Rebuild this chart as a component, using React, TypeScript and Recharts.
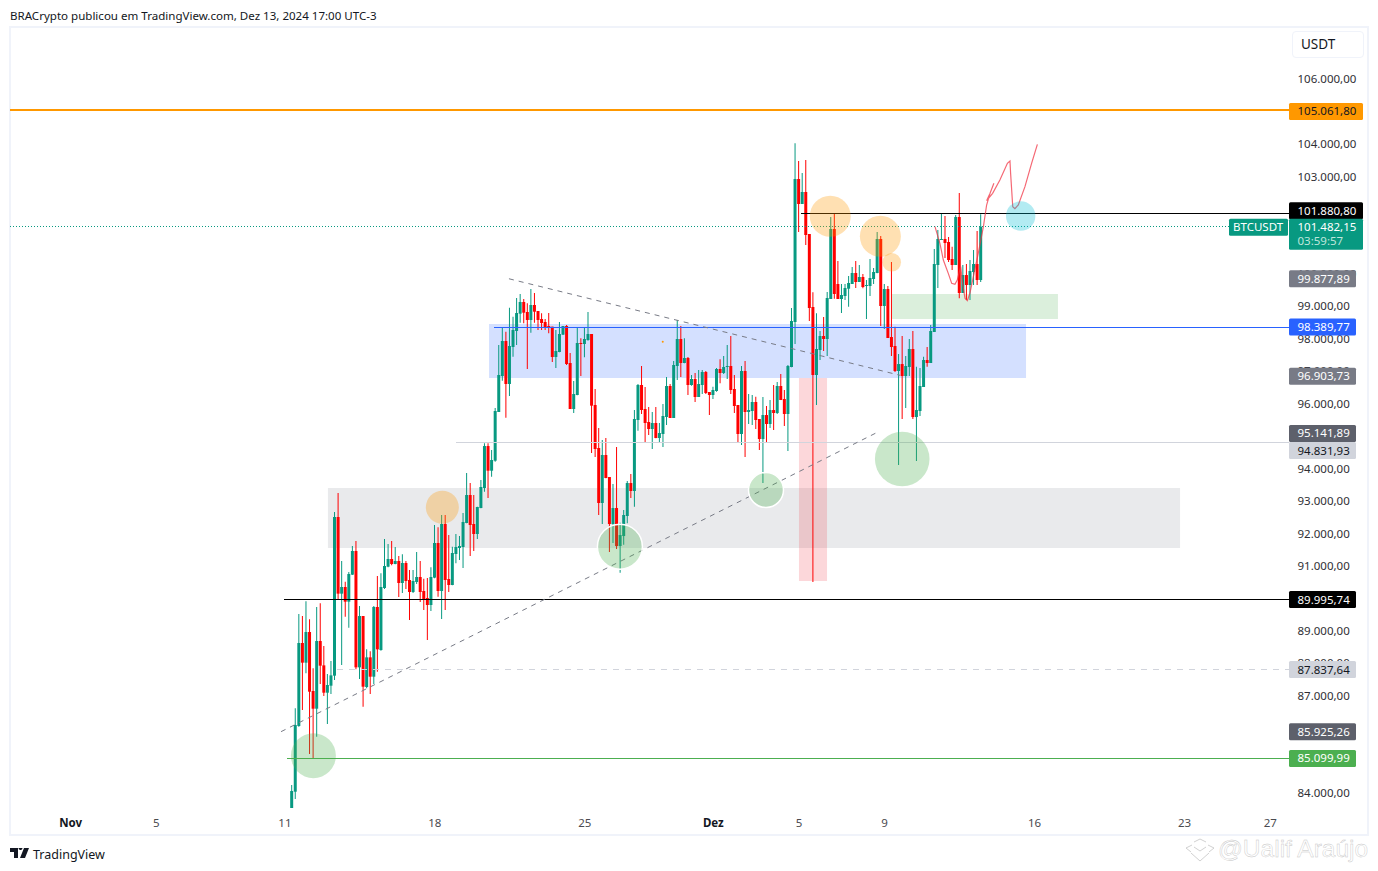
import {
  ComposedChart,
  Bar,
  Cell,
  Line,
  XAxis,
  YAxis,
  ReferenceArea,
  ReferenceDot,
  ReferenceLine,
} from 'recharts'

const FONT = '"Noto Sans", sans-serif'
const GREEN = '#089981'
const RED = '#ff0000'

// 4h BTCUSDT candles, the first one sits 10.33 days after Nov 1
const opens = [
  83573, 84076, 86099, 88657, 88051, 88995, 87178, 86633, 88718, 87968, 87126, 87342, 87650, 92539, 90177, 90382,
  89930, 90762, 91491, 87907, 89488, 87301, 88215, 87619, 89766, 88441, 90351, 91008, 91245, 91091, 91183, 90505,
  91121, 90598, 90228, 90536, 90690, 90259, 90043, 89827, 90670, 91738, 90259, 92323, 90628, 90443, 91399, 91583,
  91614, 92354, 93216, 92323, 92015, 92816, 93431, 94725, 93965, 94273, 95773, 96882, 97960, 96636, 97776, 98269,
  98803, 99162, 98854, 98608, 99070, 98885, 98638, 98546, 98423, 98402, 97468, 97622, 98156, 98423, 97283, 95865,
  96297, 97899, 97868, 97991, 98176, 95989, 94664, 92969, 94448, 93770, 92322, 92815, 91644, 91952, 92569, 93585,
  93339, 95527, 96605, 95865, 95465, 95249, 95434, 94972, 95095, 95619, 96574, 95588, 97190, 98022, 97283, 97437,
  96605, 96790, 96235, 96605, 97005, 96389, 96297, 96420, 97098, 96975, 97159, 97190, 96482, 95989, 95095, 97036,
  95773, 95804, 96081, 95557, 94941, 95680, 95403, 95834, 95742, 96574, 96173, 95711, 97159, 98545, 102951, 102181,
  102551, 101257, 99008, 96913, 97683, 98114, 98022, 99254, 101411, 99716, 99254, 99346, 99572, 99716, 100055, 99778,
  99932, 99655, 99655, 99870, 100055, 101103, 99038, 99562, 98083, 97806, 97036, 97251, 96882, 97159, 97714, 95618,
  95803, 96543, 97375, 97282, 98237, 100302, 101072, 101103, 101010, 100486, 100302, 101780, 99439, 99993, 99685,
  100086, 100332, 99840,
]
const highs = [
  84282, 86644, 89550, 89488, 89940, 89386, 87876, 89766, 89879, 88564, 87701, 88102, 92693, 93278, 91183, 90546,
  90844, 91645, 91799, 89797, 89488, 88461, 88400, 89797, 90721, 90803, 91861, 91707, 91799, 91614, 91337, 91388,
  91183, 90906, 90906, 91460, 91183, 90639, 90659, 90988, 92292, 92220, 92600, 92600, 91984, 91625, 92015, 91953,
  92662, 93894, 93586, 93216, 92857, 93679, 94808, 94808, 94602, 95896, 97837, 98382, 98248, 98987, 98710, 99285,
  99409, 99255, 99121, 99563, 99439, 98885, 98813, 98638, 98823, 98402, 98299, 98546, 98423, 98453, 97591, 96728,
  98382, 98043, 98382, 98854, 98176, 96482, 95280, 94910, 94972, 93770, 93555, 94695, 92363, 92754, 93647, 93863,
  95835, 96636, 97190, 96543, 95927, 95773, 95927, 95434, 96019, 96851, 96636, 97344, 98608, 98423, 98043, 97468,
  96913, 96975, 97067, 97067, 97036, 96389, 96554, 97129, 97396, 97498, 97837, 98115, 96913, 95989, 97190, 97344,
  96328, 96297, 96245, 95557, 96235, 95958, 96142, 96604, 96697, 96943, 96450, 97221, 98977, 104050, 103506, 103136,
  103537, 101257, 99459, 98812, 98268, 98700, 99470, 101780, 101873, 100425, 99716, 99716, 99963, 100240, 100425, 100302,
  100024, 99840, 100487, 100209, 101318, 101195, 99716, 99655, 100394, 98402, 97560, 98114, 97498, 98022, 98268, 97169,
  97128, 97477, 97775, 98453, 100795, 101380, 101873, 101811, 101164, 100867, 101842, 102520, 100302, 100332, 100456,
  100764, 101349, 101863,
]
const lows = [
  83573, 83850, 86079, 86592, 87722, 85237, 85083, 85771, 87393, 87024, 86161, 87085, 87517, 89981, 87979, 89468,
  89129, 90752, 87845, 87547, 86695, 87260, 87085, 87393, 87773, 88420, 90320, 90988, 91050, 91080, 90074, 90197,
  90320, 89365, 90197, 90474, 89920, 89673, 88749, 89643, 90649, 90084, 89396, 89673, 90228, 90433, 91111, 91214,
  90967, 92344, 91337, 91491, 91861, 92806, 93318, 93123, 93781, 94243, 95773, 96738, 95598, 96266, 97478, 97837,
  98525, 98505, 97098, 98217, 98525, 98299, 98299, 98299, 98197, 97314, 97129, 97611, 98145, 97221, 95865, 95742,
  96286, 96882, 97457, 97971, 94510, 94387, 92600, 92322, 93729, 91460, 91737, 91552, 90823, 91685, 92343, 93123,
  92856, 95198, 95711, 94818, 95064, 94633, 94962, 94818, 94695, 95372, 95588, 95588, 96759, 96851, 97272, 96297,
  96584, 96081, 96235, 96328, 96328, 95680, 96173, 96399, 96656, 96944, 96790, 96328, 95742, 94818, 94756, 94387,
  95403, 95372, 95249, 94602, 93585, 94849, 95280, 95218, 95711, 96142, 95341, 94571, 97149, 97868, 101318, 102181,
  100918, 98576, 90535, 95988, 97375, 97652, 97498, 99254, 99264, 99254, 98823, 99223, 99018, 99716, 99593, 99778,
  99583, 98638, 99346, 99716, 100045, 98422, 98330, 98053, 97498, 97005, 94140, 95557, 95896, 96882, 95557, 94263,
  95649, 96543, 97169, 97282, 98237, 99593, 101072, 100517, 100394, 100148, 100302, 99275, 99439, 99223, 99223,
  99685, 99685, 99778,
]
const closes = [
  84097, 86130, 88657, 88051, 88995, 87157, 86633, 88718, 87958, 87126, 87363, 87660, 92539, 90177, 90382, 89930,
  90782, 91491, 87907, 89488, 87311, 88215, 87619, 89766, 88461, 90382, 91029, 91245, 91091, 91183, 90505, 91121,
  90567, 90228, 90567, 90690, 90228, 90012, 89827, 90690, 91738, 90259, 92323, 90598, 90443, 91430, 91614, 91645,
  92385, 93216, 92292, 92015, 92847, 93463, 94725, 93965, 94294, 95804, 96913, 97960, 96636, 97806, 98299, 98823,
  99162, 98833, 98608, 99070, 98864, 98608, 98515, 98382, 98382, 97468, 97652, 98176, 98423, 97252, 95865, 96328,
  97899, 97868, 98022, 98176, 95968, 94633, 92969, 94448, 93740, 92322, 92815, 91644, 91983, 92600, 93585, 93339,
  95557, 96605, 95835, 95434, 95249, 95434, 94972, 95126, 95650, 96574, 95588, 97221, 98022, 97283, 97437, 96605,
  96790, 96235, 96636, 97005, 96358, 96297, 96451, 97098, 96975, 97159, 97190, 96451, 95958, 95095, 97036, 95773,
  95835, 96081, 95527, 94941, 95680, 95403, 95834, 95742, 96574, 96142, 95711, 97190, 98576, 102951, 102181, 102551,
  101226, 98977, 96913, 97714, 98114, 98022, 99285, 101411, 99408, 99254, 99377, 99593, 99747, 100055, 99778, 99932,
  99624, 99685, 99901, 100086, 101103, 99038, 99562, 98053, 97775, 97036, 97251, 96882, 97190, 97714, 95618, 95834,
  96574, 97375, 97282, 98268, 100332, 101103, 101103, 100980, 100456, 100302, 101780, 99439, 99993, 99685, 100117,
  100332, 99840, 101482,
]

// hand drawn projection in red
const sketchDays = [
  40.35, 40.58, 40.74, 40.97, 41.13, 41.28, 41.39, 41.55, 41.64, 41.75, 41.86, 41.98, 42.14, 42.37, 42.61, 42.76,
  42.92, 43.1, 42.92, 42.76, 43.04, 43.38, 43.73, 43.85, 43.88, 43.98, 44.08, 44.24, 44.55, 44.86, 45.13,
]
const sketchPrices = [
  101483, 100969, 100456, 100045, 99737, 99706, 99840, 100250, 99737, 99275, 99203, 99429, 99942, 100661, 101483, 102150,
  102510, 102818, 102510, 102284, 102510, 102920, 103434, 103506, 103126, 102099, 102037, 102150, 102715, 103434, 104019,
]

const tickDays = [0, 4, 10, 17, 24, 30, 34, 38, 45, 52, 56]
const tickNames = ['Nov', '5', '11', '18', '25', 'Dez', '5', '9', '16', '23', '27']
const priceTicks = [106000, 104000, 103000, 100000, 99000, 98000, 97000, 96000, 94000, 93000, 92000, 91000, 89000, 88000, 87000, 84000]

const DAY_MIN = -2.834
const DAY_MAX = 56.877
const PRICE_MIN = 83543
const PRICE_MAX = 107634

const candles = opens.map((open, i) => ({
  day: 10.33 + i / 6,
  up: closes[i] >= open,
  wick: [lows[i], highs[i]],
  body: [Math.min(open, closes[i]), Math.max(open, closes[i])],
}))
const sketch = sketchDays.map((day, i) => ({ day, price: sketchPrices[i] }))

function brl(v: number, digits = 2) {
  return v.toLocaleString('pt-BR', { minimumFractionDigits: digits, maximumFractionDigits: digits })
}

function TimeTick({ x, y, payload }: any) {
  const name = tickNames[tickDays.indexOf(payload.value)]
  const month = name === 'Nov' || name === 'Dez'
  return (
    <text x={x} y={y + 10} textAnchor="middle" fontFamily={FONT} fontSize={11.5} fontWeight={month ? 700 : 400} fill={month ? '#131722' : '#4a4a4f'}>
      {name}
    </text>
  )
}

function PriceTag({ cx, cy, label, bg, fg, wide, nudge = 0 }: any) {
  const w = wide ? 74 : 67
  const mid = cy + nudge
  return (
    <g>
      <rect x={cx} y={mid - 8.5} width={w} height={17} rx={1.5} fill={bg} />
      <text x={cx + 8.5} y={mid + 4} fontFamily={FONT} fontSize={11.5} fill={fg}>
        {label}
      </text>
    </g>
  )
}

function LastPriceTag({ cx, cy }: any) {
  return (
    <g fontFamily={FONT} fontSize={11.5}>
      <rect x={cx - 60} y={cy - 8} width={59} height={17} rx={1.5} fill={GREEN} />
      <text x={cx - 56} y={cy + 4.5} fill="#fff">BTCUSDT</text>
      <rect x={cx} y={cy - 8} width={74} height={31} rx={1.5} fill={GREEN} />
      <text x={cx + 8.5} y={cy + 4.5} fill="#fff">{brl(101482.15)}</text>
      <text x={cx + 8.5} y={cy + 18.5} fill="#bfe6dc">03:59:57</text>
    </g>
  )
}

const priceTags = [
  { price: 105061.8, bg: '#ff9800', fg: '#131722', wide: true, nudge: 1 },
  { price: 101880.8, bg: '#000000', fg: '#ffffff', wide: true, nudge: -3 },
  { price: 99877.89, bg: '#787b86', fg: '#ffffff' },
  { price: 98389.77, bg: '#2962ff', fg: '#ffffff' },
  { price: 96903.73, bg: '#787b86', fg: '#ffffff', nudge: 1 },
  { price: 95141.89, bg: '#5d606b', fg: '#ffffff', nudge: 1 },
  { price: 94831.93, bg: '#d1d4dc', fg: '#131722', nudge: 8 },
  { price: 89995.74, bg: '#000000', fg: '#ffffff' },
  { price: 87837.64, bg: '#d1d4dc', fg: '#131722' },
  { price: 85925.26, bg: '#5d606b', fg: '#ffffff' },
  { price: 85099.99, bg: '#4caf50', fg: '#ffffff' },
]

const hLines = [
  { price: 105061.8, from: DAY_MIN, stroke: '#ff9800', width: 2 },
  { price: 101880.8, from: 34.1, stroke: '#000000', width: 1 },
  { price: 98389.77, from: 19.76, stroke: '#2962ff', width: 1 },
  { price: 94831.93, from: 17.99, stroke: '#d1d4dc', width: 1 },
  { price: 89995.74, from: 9.96, stroke: '#000000', width: 1 },
  { price: 87837.64, from: 12.43, stroke: '#d1d4dc', width: 1, dash: '6 6' },
  { price: 85099.99, from: 10.1, stroke: '#4caf50', width: 1 },
]

const zones = [
  { x1: 12.01, x2: 51.79, y1: 91584, y2: 93432, fill: '#787b86', op: 0.16 },
  { x1: 19.53, x2: 44.6, y1: 96821, y2: 98485, fill: '#2962ff', op: 0.2 },
  { x1: 38.34, x2: 46.09, y1: 98639, y2: 99409, fill: '#4caf50', op: 0.2 },
  { x1: 34.0, x2: 35.31, y1: 90567, y2: 96821, fill: '#f23645', op: 0.2 },
]

const circles = [
  { day: 11.33, price: 85185, r: 22.5, fill: '#4caf50' },
  { day: 17.35, price: 92838, r: 16.5, fill: '#ff9800' },
  { day: 25.64, price: 91624, r: 22.5, fill: '#4caf50', ring: true },
  { day: 32.46, price: 93371, r: 17.5, fill: '#4caf50', ring: true },
  { day: 38.82, price: 94326, r: 27.3, fill: '#4caf50' },
  { day: 35.46, price: 101803, r: 20.5, fill: '#ff9800' },
  { day: 37.8, price: 101186, r: 20.5, fill: '#ff9800' },
  { day: 38.33, price: 100385, r: 9.3, fill: '#ff9800' },
  { day: 44.35, price: 101812, r: 14.7, fill: '#00bcd4' },
]

function Chart() {
  return (
    <ComposedChart width={1378} height={871} data={candles} margin={{ top: 27, right: 10, bottom: 35, left: 10 }}>
      <XAxis
        dataKey="day"
        type="number"
        domain={[DAY_MIN, DAY_MAX]}
        ticks={tickDays}
        interval={0}
        allowDataOverflow
        axisLine={false}
        tickLine={false}
        height={27}
        tick={<TimeTick />}
      />
      <XAxis xAxisId="wick" dataKey="day" type="number" domain={[DAY_MIN, DAY_MAX]} allowDataOverflow hide />
      <XAxis xAxisId="body" dataKey="day" type="number" domain={[DAY_MIN, DAY_MAX]} allowDataOverflow hide />
      <YAxis
        orientation="right"
        type="number"
        domain={[PRICE_MIN, PRICE_MAX]}
        ticks={priceTicks}
        interval={0}
        allowDataOverflow
        width={79}
        axisLine={false}
        tickLine={false}
        tickMargin={8.5}
        tickSize={0}
        tick={{ fontFamily: FONT, fontSize: 11.5, fill: '#2f2f35', dy: -1 }}
        tickFormatter={(v: number) => brl(v)}
      />

      {zones.map((z, i) => (
        <ReferenceArea key={i} x1={z.x1} x2={z.x2} y1={z.y1} y2={z.y2} fill={z.fill} fillOpacity={z.op} stroke="none" />
      ))}
      {circles.map((c, i) => (
        <ReferenceDot
          key={i}
          x={c.day}
          y={c.price}
          r={c.r}
          fill={c.fill}
          fillOpacity={0.3}
          stroke={c.ring ? '#ffffff' : 'none'}
          strokeWidth={1.5}
        />
      ))}
      <ReferenceDot x={27.64} y={97939} r={1} fill="#ff9800" stroke="none" />

      {hLines.map((l, i) => (
        <ReferenceLine
          key={i}
          segment={[{ x: l.from, y: l.price }, { x: DAY_MAX, y: l.price }]}
          stroke={l.stroke}
          strokeWidth={l.width}
          strokeDasharray={l.dash}
          shapeRendering="crispEdges"
        />
      ))}
      <ReferenceLine
        segment={[{ x: DAY_MIN, y: 101482.15 }, { x: 54.08, y: 101482.15 }]}
        stroke={GREEN}
        strokeDasharray="1 2"
        shapeRendering="crispEdges"
      />
      <ReferenceLine
        segment={[{ x: 9.82, y: 85925.26 }, { x: 37.64, y: 95141.89 }]}
        stroke="#787b86"
        strokeDasharray="5 5"
      />
      <ReferenceLine
        segment={[{ x: 20.46, y: 99877.89 }, { x: 38.72, y: 96903.73 }]}
        stroke="#787b86"
        strokeDasharray="5 5"
      />

      <Bar xAxisId="wick" dataKey="wick" barSize={1} isAnimationActive={false}>
        {candles.map((c, i) => (
          <Cell key={i} fill={c.up ? GREEN : RED} />
        ))}
      </Bar>
      <Bar xAxisId="body" dataKey="body" barSize={3} isAnimationActive={false}>
        {candles.map((c, i) => (
          <Cell key={i} fill={c.up ? GREEN : RED} />
        ))}
      </Bar>

      <Line
        data={sketch}
        dataKey="price"
        type="linear"
        stroke="#f23645"
        strokeOpacity={0.75}
        strokeWidth={1.2}
        dot={false}
        isAnimationActive={false}
        legendType="none"
      />

      {priceTags.map((t, i) => (
        <ReferenceDot
          key={i}
          x={DAY_MAX}
          y={t.price}
          r={0}
          zIndex={2000}
          shape={(p: any) => <PriceTag {...p} label={brl(t.price)} bg={t.bg} fg={t.fg} wide={t.wide} nudge={t.nudge} />}
        />
      ))}
      <ReferenceDot x={DAY_MAX} y={101482.15} r={0} zIndex={2000} shape={(p: any) => <LastPriceTag {...p} />} />
    </ComposedChart>
  )
}

export default function App() {
  return (
    <div style={{ position: 'absolute', left: 0, top: 0, width: 1378, height: 871, background: '#fff', overflow: 'hidden', fontFamily: FONT }}>
      <div style={{ position: 'absolute', left: 10, top: 9, fontSize: 11.55, lineHeight: '13px', color: '#131722', whiteSpace: 'nowrap' }}>
        BRACrypto publicou em TradingView.com, Dez 13, 2024 17:00 UTC-3
      </div>
      <div style={{ position: 'absolute', left: 9, top: 26, width: 1356, height: 806, border: '2px solid #f0f3fa' }} />
      <div style={{ position: 'absolute', left: 0, top: 0 }}>
        <Chart />
      </div>
      <div style={{ position: 'absolute', left: 1292, top: 31, width: 70, height: 25, border: '1px solid #f0f3fa', borderRadius: 4, background: '#fff', fontSize: 13.5, lineHeight: '25px', color: '#131722', textIndent: 8 }}>
        USDT
      </div>
      <svg style={{ position: 'absolute', left: 10, top: 848 }} width={20} height={12} viewBox="0 0 20 12">
        <path d="M0 0h8v10H4V4H0z M8.5 0a2 2 0 1 1 0 0.1z M14 0h5l-4 10h-5z" fill="#131722" />
      </svg>
      <div style={{ position: 'absolute', left: 33, top: 846, fontSize: 12.5, lineHeight: '17px', color: '#131722' }}>TradingView</div>
      <svg style={{ position: 'absolute', left: 1170, top: 825, pointerEvents: 'none' }} width={208} height={46} viewBox="0 0 208 46">
        <g fill="none" stroke="#c4c4c4" strokeWidth={0.8}>
          <path d="M24 17 L30 14 L36 17 M16 23 L22 20 M38 20 L44 23 M16 23 L21 27 M44 23 L39 27 M24 22 L30 26 L36 22 M21 28 L30 36 L39 28" />
        </g>
        <text x={48} y={32} fontFamily="Liberation Sans" fontSize={24.5} fill="#fff" stroke="#c4c4c4" strokeWidth={0.4}>
          @Ualif Araújo
        </text>
      </svg>
    </div>
  )
}
